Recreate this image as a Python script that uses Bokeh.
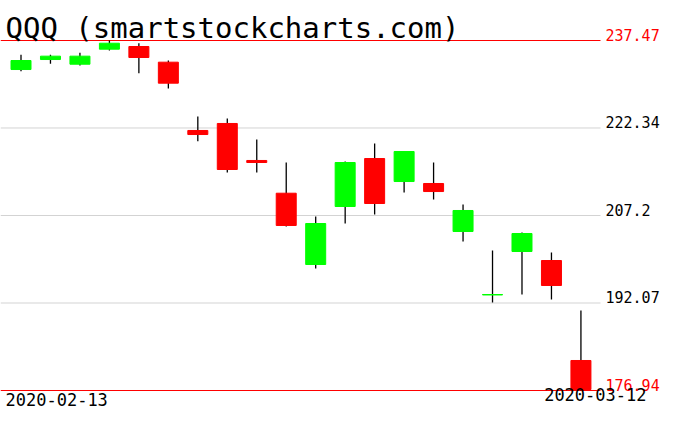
from bokeh.plotting import figure
from bokeh.models import Range1d, ColumnDataSource
from bokeh.embed import file_html
from bokeh.resources import INLINE
from bokeh.core.properties import value

# ---------------- data ----------------
title_text = "QQQ (smartstockcharts.com)"
dates = ["2020-02-13", "2020-02-14", "2020-02-18", "2020-02-19", "2020-02-20",
         "2020-02-21", "2020-02-24", "2020-02-25", "2020-02-26", "2020-02-27",
         "2020-02-28", "2020-03-02", "2020-03-03", "2020-03-04", "2020-03-05",
         "2020-03-06", "2020-03-09", "2020-03-10", "2020-03-11", "2020-03-12"]
opens  = [232.45, 234.18, 233.37, 235.97, 236.43, 233.72, 221.91, 223.12, 216.72, 211.06,
          198.73, 208.76, 217.06, 213.08, 212.74, 204.44, 193.46, 200.98, 199.42, 182.13]
highs  = [235.00, 235.00, 235.34, 237.47, 237.00, 234.01, 224.33, 223.98, 220.35, 216.37,
          207.03, 216.54, 219.66, 218.27, 216.37, 209.11, 201.15, 204.26, 200.81, 190.78]
lows   = [232.16, 233.44, 233.15, 235.74, 231.82, 229.17, 220.06, 214.64, 214.64, 205.30,
          198.04, 205.82, 207.38, 211.18, 209.97, 202.71, 192.16, 193.54, 192.68, 176.94]
closes = [234.01, 234.76, 234.76, 237.00, 234.53, 230.09, 221.21, 215.16, 216.37, 205.48,
          205.82, 216.37, 209.28, 218.27, 211.35, 208.07, 193.54, 204.09, 195.10, 177.11]
level_values = [237.47, 222.34, 207.2, 192.07, 176.94]
level_labels = ["237.47", "222.34", "207.2", "192.07", "176.94"]

# ---------------- layout helpers ----------------
W, H = 668, 423
SLOT, X0PX = 29.47, 20.5
TOP_PX, BOT_PX = 40.0, 390.0
scale = (BOT_PX - TOP_PX) / (level_values[0] - level_values[-1])

def ix(px):
    return (px - X0PX) / SLOT

def vy(py):
    return level_values[0] - (py - TOP_PX) / scale

def tb(py_base, fs):
    # text anchor so that the glyph baseline falls at py_base
    return vy(py_base - 0.4 * fs)

p = figure(width=W, height=H, output_backend="svg", toolbar_location=None,
           x_range=Range1d(ix(0), ix(W)), y_range=Range1d(vy(H), vy(0)),
           min_border=0, min_border_left=0, min_border_right=0,
           min_border_top=0, min_border_bottom=0)
p.xaxis.visible = False
p.yaxis.visible = False
p.grid.visible = False
p.outline_line_color = None
p.background_fill_color = "white"
p.border_fill_color = "white"

mono = value("DejaVu Sans Mono")

# level lines
n = len(level_values)
lvl_colors = ["#ff0000" if (i == 0 or i == n - 1) else "#d3d3d3" for i in range(n)]
lvl_src = ColumnDataSource(dict(x0=[ix(0)] * n, x1=[ix(600)] * n, y=level_values,
                                ty=[tb(vy_px, 15) for vy_px in
                                    [TOP_PX + (level_values[0] - v) * scale for v in level_values]],
                                c=lvl_colors, t=level_labels,
                                tc=["#ff0000" if (i == 0 or i == n - 1) else "black" for i in range(n)],
                                tx=[ix(605)] * n))
p.segment(x0="x0", y0="y", x1="x1", y1="y", line_color="c", line_width=1, source=lvl_src)

# candles
idx = list(range(len(dates)))
cols = ["#00ff00" if c >= o else "#ff0000" for o, c in zip(opens, closes)]
src = ColumnDataSource(dict(x=idx, o=opens, h=highs, l=lows, c=closes,
                            top=[max(a, b) for a, b in zip(opens, closes)],
                            bot=[min(a, b) for a, b in zip(opens, closes)],
                            col=cols))
p.segment(x0="x", y0="l", x1="x", y1="h", line_color="black", line_width=1.3, source=src)
p.vbar(x="x", width=20 / SLOT, top="top", bottom="bot", fill_color="col",
       line_color="col", line_width=1, source=src)

# price labels
p.text(x="tx", y="ty", text="t", text_color="tc", text_font=mono, text_font_size="15px",
       text_baseline="alphabetic", text_align="left", source=lvl_src)

# date labels
p.text(x=[ix(5)], y=[tb(406, 17)], text=[dates[0]], text_color="black", text_font=mono,
       text_font_size="17px", text_baseline="alphabetic", text_align="left")
p.text(x=[ix(646)], y=[tb(401, 17)], text=[dates[-1]], text_color="black", text_font=mono,
       text_font_size="17px", text_baseline="alphabetic", text_align="right")

# title
p.text(x=[ix(5)], y=[tb(39, 29)], text=[title_text], text_color="black", text_font=mono,
       text_font_size="29px", text_baseline="alphabetic", text_align="left")

open("out.html", "w").write(file_html(p, INLINE))
